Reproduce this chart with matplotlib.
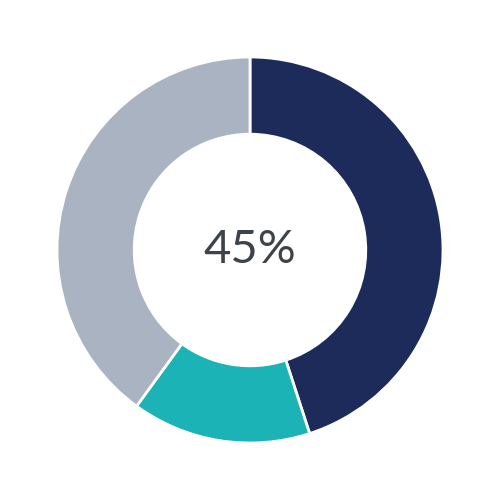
import matplotlib.pyplot as plt

# slice values (percent), clockwise from 12 o'clock
labels = ["Navy", "Teal", "Grey"]
values = [45, 15, 40]
colors = ["#1c2b5a", "#1bb3b5", "#a9b3c1"]
center_text = "45%"

fig = plt.figure(figsize=(5, 5), dpi=100)
ax = fig.add_axes([0, 0, 1, 1])

ax.pie(values, colors=colors, startangle=90, counterclock=False,
       radius=1.0,
       wedgeprops=dict(width=0.4, edgecolor="white", linewidth=2))

ax.text(0, 0, center_text, ha="center", va="center",
        fontsize=34, color="#3d4349", family=["Lato", "DejaVu Sans"])

lim = 250 / 193
ax.set_xlim(-lim, lim)
ax.set_ylim(-lim, lim)
ax.set_aspect("equal")
ax.axis("off")

fig.savefig("out.png", dpi=100, facecolor="white")
